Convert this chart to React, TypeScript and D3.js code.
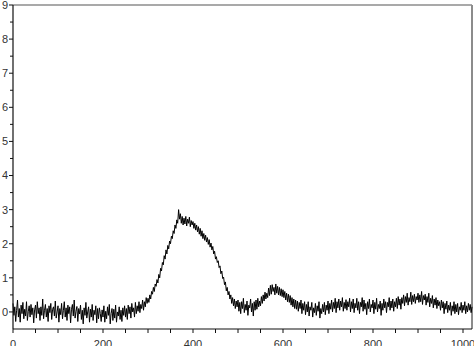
import React from "react";
import * as d3 from "d3";

const sampleStart = 0;
const sampleStep = 2;

const signal: number[] = [
  // 0-48
  0.25, -0.1, 0.15, -0.28, 0.05, 0.35, -0.15, 0.1, -0.3, 0.2, -0.05, 0.28, -0.2, 0.08, -0.12, 0.3, -0.25, 0.02, 0.18, -0.15, 0.22, -0.08, 0.12, -0.32, 0.06,
  // 50-98
  0.2, -0.18, 0.3, -0.05, 0.12, -0.25, 0.15, -0.1, 0.38, -0.2, 0.05, 0.22, -0.15, 0.1, -0.28, 0.18, -0.02, 0.25, -0.22, 0.08, 0.15, -0.12, 0.32, -0.18, 0.0,
  // 100-148
  0.18, -0.3, 0.1, -0.08, 0.25, -0.2, 0.05, 0.3, -0.15, 0.12, -0.25, 0.2, -0.05, 0.15, -0.32, 0.08, 0.22, -0.12, 0.35, -0.18, 0.02, 0.16, -0.28, 0.1, -0.06,
  // 150-198
  0.2, -0.22, 0.05, -0.35, 0.12, -0.1, 0.28, -0.18, 0.0, 0.15, -0.3, 0.08, -0.15, 0.22, -0.25, 0.05, -0.08, 0.18, -0.32, 0.1, -0.2, 0.12, -0.05, -0.28, 0.06,
  // 200-248
  -0.15, 0.18, -0.3, 0.02, -0.2, 0.15, -0.1, 0.22, -0.35, -0.05, 0.1, -0.25, 0.08, -0.18, 0.2, -0.3, 0.0, -0.12, 0.15, -0.22, 0.05, -0.28, 0.12, -0.1, 0.18,
  // 250-298
  -0.15, 0.1, -0.22, 0.2, -0.05, 0.15, -0.18, 0.25, 0.0, 0.12, -0.15, 0.28, -0.05, 0.18, 0.02, 0.3, -0.02, 0.22, 0.1, 0.35, 0.05, 0.3, 0.15, 0.42, 0.25,
  // 300-348
  0.4, 0.28, 0.5, 0.38, 0.6, 0.52, 0.72, 0.6, 0.82, 0.75, 0.95, 0.85, 1.1, 1.0, 1.28, 1.2, 1.45, 1.38, 1.65, 1.55, 1.82, 1.7, 1.95, 1.85, 2.08,
  // 350-398
  2.0, 2.22, 2.15, 2.38, 2.3, 2.55, 2.45, 2.7, 2.6, 3.0, 2.72, 2.88, 2.6, 2.8, 2.55, 2.75, 2.58, 2.8, 2.52, 2.72, 2.6, 2.78, 2.5, 2.68, 2.55,
  // 400-448
  2.65, 2.45, 2.6, 2.4, 2.55, 2.35, 2.5, 2.28, 2.45, 2.22, 2.38, 2.15, 2.3, 2.1, 2.25, 2.05, 2.18, 1.98, 2.12, 1.9, 2.02, 1.82, 1.92, 1.7, 1.78,
  // 450-498
  1.55, 1.62, 1.45, 1.5, 1.3, 1.35, 1.12, 1.2, 0.98, 1.02, 0.8, 0.88, 0.62, 0.72, 0.5, 0.6, 0.38, 0.5, 0.25, 0.42, 0.18, 0.38, 0.1, 0.32, 0.15,
  // 500-548
  0.35, 0.02, 0.28, -0.05, 0.3, 0.1, 0.4, -0.02, 0.22, 0.05, 0.32, -0.1, 0.2, 0.12, 0.38, 0.0, 0.25, -0.12, 0.3, 0.05, 0.35, 0.08, 0.4, 0.15, 0.32,
  // 550-598
  0.18, 0.45, 0.25, 0.5, 0.32, 0.58, 0.38, 0.55, 0.42, 0.7, 0.48, 0.78, 0.52, 0.8, 0.6, 0.72, 0.5, 0.82, 0.55, 0.75, 0.5, 0.72, 0.48, 0.68, 0.45,
  // 600-648
  0.65, 0.42, 0.6, 0.35, 0.55, 0.3, 0.52, 0.28, 0.48, 0.2, 0.42, 0.15, 0.38, 0.1, 0.35, 0.08, 0.32, 0.02, 0.28, 0.1, 0.35, -0.05, 0.25, 0.05, 0.3,
  // 650-698
  -0.08, 0.22, 0.0, 0.3, -0.12, 0.15, 0.05, 0.28, -0.15, 0.12, -0.02, 0.25, -0.1, 0.18, 0.02, 0.3, -0.18, 0.1, -0.05, 0.22, 0.0, 0.28, -0.08, 0.2, 0.05,
  // 700-748
  0.32, -0.05, 0.25, 0.08, 0.35, 0.0, 0.28, 0.1, 0.4, -0.02, 0.3, 0.12, 0.38, 0.05, 0.32, 0.15, 0.42, 0.02, 0.28, 0.1, 0.36, 0.05, 0.3, 0.15, 0.4,
  // 750-798
  0.0, 0.3, 0.1, 0.38, -0.02, 0.25, 0.12, 0.4, 0.05, 0.3, -0.05, 0.28, 0.15, 0.42, 0.02, 0.35, 0.08, 0.25, -0.08, 0.3, 0.1, 0.38, 0.0, 0.22, 0.12,
  // 800-848
  0.35, -0.05, 0.28, 0.08, 0.4, 0.0, 0.22, 0.1, 0.32, -0.1, 0.25, 0.05, 0.38, 0.12, 0.3, -0.02, 0.28, 0.15, 0.42, 0.05, 0.32, 0.12, 0.38, 0.02, 0.3,
  // 850-898
  0.15, 0.4, 0.1, 0.45, 0.2, 0.38, 0.08, 0.42, 0.25, 0.5, 0.18, 0.45, 0.28, 0.55, 0.2, 0.42, 0.3, 0.58, 0.22, 0.48, 0.3, 0.52, 0.25, 0.45, 0.35,
  // 900-948
  0.55, 0.28, 0.5, 0.3, 0.6, 0.22, 0.48, 0.35, 0.52, 0.2, 0.45, 0.28, 0.55, 0.15, 0.4, 0.25, 0.48, 0.12, 0.38, 0.2, 0.42, 0.1, 0.35, 0.18, 0.3,
  // 950-998
  0.05, 0.35, 0.12, 0.3, -0.05, 0.25, 0.08, 0.32, -0.02, 0.2, 0.05, 0.28, -0.1, 0.18, 0.02, 0.3, -0.05, 0.22, 0.0, 0.25, -0.08, 0.15, 0.05, 0.28, -0.02,
  // 1000-1020
  0.2, 0.05, 0.3, -0.05, 0.18, 0.0, 0.25, 0.05, 0.22, -0.02, 0.15,
];

const xTickValues = [0, 200, 400, 600, 800, 1000];
const xTickLabels = ["0", "200", "400", "600", "800", "1000"];
const xMinorTicks = [50, 100, 150, 250, 300, 350, 450, 500, 550, 650, 700, 750, 850, 900, 950];
const yTickValues = [0, 1, 2, 3, 4, 5, 6, 7, 8, 9];
const yTickLabels = ["0", "1", "2", "3", "4", "5", "6", "7", "8", "9"];
const yMinorTicks = [0.5, 1.5, 2.5, 3.5, 4.5, 5.5, 6.5, 7.5, 8.5];

const W = 474;
const H = 346;

export default function App() {
  const x = d3.scaleLinear().domain([0, 1020]).range([13, 472]);
  const y = d3.scaleLinear().domain([-0.5, 9]).range([329, 5]);
  const pts: [number, number][] = signal.map((v, i) => [sampleStart + i * sampleStep, v]);
  const line = d3
    .line<[number, number]>()
    .x((d) => x(d[0]))
    .y((d) => y(d[1]));
  const font = "Liberation Sans, Arial, sans-serif";
  const x0 = x(0);
  const yb = y(-0.5);
  return (
    <svg
      width={W}
      height={H}
      style={{ position: "absolute", left: 0, top: 0, background: "#fff" }}
    >
      <rect x={0} y={0} width={W} height={H} fill="#fff" />
      <line x1={x0} x2={x(1020)} y1={y(9)} y2={y(9)} stroke="#8c8c8c" strokeWidth={1.5} />
      <line x1={x(1020)} x2={x(1020)} y1={y(9)} y2={yb} stroke="#8c8c8c" strokeWidth={2} />
      <path d={line(pts) || ""} fill="none" stroke="#000" strokeWidth={1} />
      <line x1={x0} x2={x0} y1={y(9)} y2={yb} stroke="#111" strokeWidth={1.2} />
      {yTickValues.map((v, i) => (
        <g key={"yt" + v}>
          <line x1={x0 - 4} x2={x0} y1={y(v)} y2={y(v)} stroke="#111" />
          <text
            x={x0 - 5}
            y={y(v)}
            dy="0.36em"
            textAnchor="end"
            fontFamily={font}
            fontSize={11}
            fill="#333"
          >
            {yTickLabels[i]}
          </text>
        </g>
      ))}
      {yMinorTicks.map((v) => (
        <line key={"ym" + v} x1={x0 - 3} x2={x0} y1={y(v)} y2={y(v)} stroke="#111" />
      ))}
      <line x1={x0} x2={x(1020)} y1={yb} y2={yb} stroke="#111" strokeWidth={1.2} />
      {xTickValues.map((v, i) => (
        <g key={"xt" + v}>
          <line x1={x(v)} x2={x(v)} y1={yb} y2={yb + 4} stroke="#111" />
          <text
            x={x(v)}
            y={yb + 19}
            textAnchor="middle"
            fontFamily={font}
            fontSize={11}
            fill="#333"
          >
            {xTickLabels[i]}
          </text>
        </g>
      ))}
      {xMinorTicks.map((v) => (
        <line key={"xm" + v} x1={x(v)} x2={x(v)} y1={yb} y2={yb + 4} stroke="#111" />
      ))}
    </svg>
  );
}
